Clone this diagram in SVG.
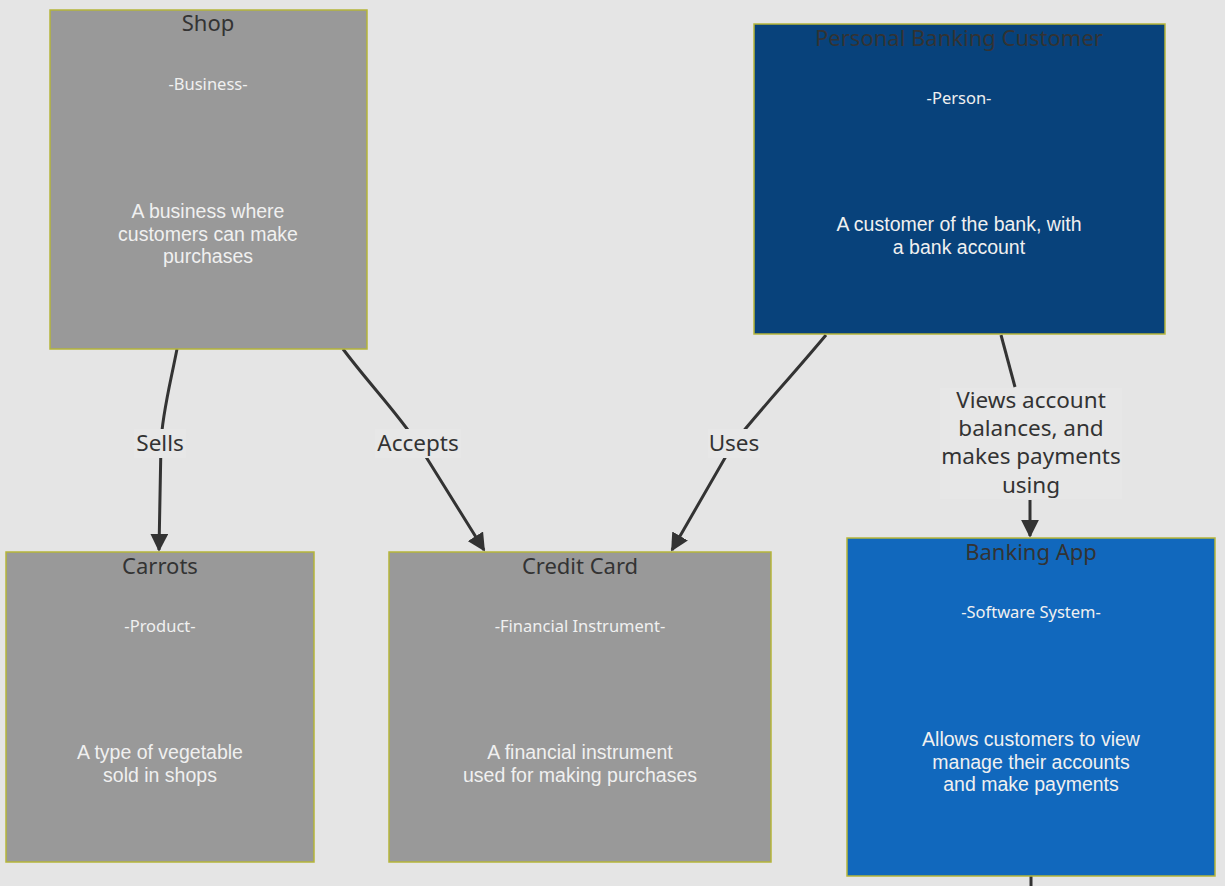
<svg xmlns="http://www.w3.org/2000/svg" width="1225" height="886" viewBox="0 0 1225 886">
<defs>
<style>
.bg{fill:#e5e5e5}
.node rect{stroke:#b5b53a;stroke-width:1.5}
.ext rect{fill:#999999}
.person rect{fill:#08427b}
.sys rect{fill:#1168bd}
.title{font-family:"Noto Sans","DejaVu Sans",sans-serif;font-size:22px;fill:#333333;text-anchor:middle}
.type{font-family:"Noto Sans","DejaVu Sans",sans-serif;font-size:16.5px;fill:#f0f0f0;text-anchor:middle}
.desc{font-family:"Liberation Sans",Arial,sans-serif;font-size:19.5px;fill:#f0f0f0;text-anchor:middle}
.edge{fill:none;stroke:#333333;stroke-width:3}
.lbl{font-family:"Noto Sans","DejaVu Sans",sans-serif;font-size:22.5px;fill:#333333;text-anchor:middle}
.lblbg{fill:#e7e7e7}
</style>
<marker id="arrow" viewBox="0 0 10 10" refX="9" refY="5" markerWidth="6" markerHeight="6" markerUnits="strokeWidth" orient="auto">
<path d="M0,0 L10,5 L0,10 z" fill="#333333"/>
</marker>
</defs>
<rect class="bg" x="0" y="0" width="1225" height="886"/>

<g id="edges">
<path class="edge" d="M177,349 C170,385 162,415 161,443 L159,550" marker-end="url(#arrow)"/>
<path class="edge" d="M343,349 C370,385 395,410 418,444 L484,550" marker-end="url(#arrow)"/>
<path class="edge" d="M826,335 C790,378 760,410 733,444 L672,550" marker-end="url(#arrow)"/>
<path class="edge" d="M1001,335 L1015,387"/>
<path class="edge" d="M1030,500 L1030,536" marker-end="url(#arrow)"/>
<path class="edge" d="M1031,876 L1031,886"/>
</g>

<g id="edge-labels">
<rect class="lblbg" x="134" y="429" width="52" height="29"/>
<text class="lbl" x="160" y="451">Sells</text>
<rect class="lblbg" x="375" y="429" width="86" height="29"/>
<text class="lbl" x="418" y="451">Accepts</text>
<rect class="lblbg" x="708" y="429" width="52" height="29"/>
<text class="lbl" x="734" y="451">Uses</text>
<rect class="lblbg" x="940" y="388" width="182" height="111"/>
<text class="lbl" x="1031" y="408">Views account</text>
<text class="lbl" x="1031" y="436">balances, and</text>
<text class="lbl" x="1031" y="464">makes payments</text>
<text class="lbl" x="1031" y="493">using</text>
</g>

<g id="shop" class="node ext">
<rect x="50" y="10" width="317" height="339"/>
<text class="title" x="208" y="31">Shop</text>
<text class="type" x="208" y="90">-Business-</text>
<text class="desc" x="208" y="218">A business where</text>
<text class="desc" x="208" y="240.5">customers can make</text>
<text class="desc" x="208" y="263">purchases</text>
</g>

<g id="customer" class="node person">
<rect x="754" y="24" width="411" height="310"/>
<text class="title" x="959" y="46">Personal Banking Customer</text>
<text class="type" x="959" y="104">-Person-</text>
<text class="desc" x="959" y="231">A customer of the bank, with</text>
<text class="desc" x="959" y="253.5">a bank account</text>
</g>

<g id="carrots" class="node ext">
<rect x="6" y="552" width="308" height="310"/>
<text class="title" x="160" y="574">Carrots</text>
<text class="type" x="160" y="632">-Product-</text>
<text class="desc" x="160" y="759">A type of vegetable</text>
<text class="desc" x="160" y="781.5">sold in shops</text>
</g>

<g id="creditcard" class="node ext">
<rect x="389" y="552" width="382" height="310"/>
<text class="title" x="580" y="574">Credit Card</text>
<text class="type" x="580" y="632">-Financial Instrument-</text>
<text class="desc" x="580" y="759">A financial instrument</text>
<text class="desc" x="580" y="781.5">used for making purchases</text>
</g>

<g id="bankingapp" class="node sys">
<rect x="847" y="538" width="368" height="338"/>
<text class="title" x="1031" y="560">Banking App</text>
<text class="type" x="1031" y="618">-Software System-</text>
<text class="desc" x="1031" y="746">Allows customers to view</text>
<text class="desc" x="1031" y="768.5">manage their accounts</text>
<text class="desc" x="1031" y="791">and make payments</text>
</g>
</svg>
